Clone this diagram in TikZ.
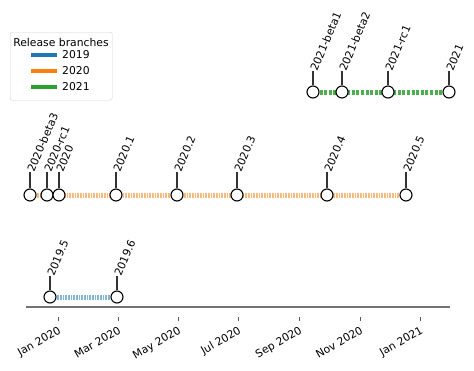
\documentclass[tikz,border=0pt]{standalone}
\usepackage{fontspec}
\setmainfont{DejaVu Sans}
\usetikzlibrary{positioning, backgrounds}
\definecolor{tabblue}{HTML}{1F77B4}
\definecolor{taborange}{HTML}{FF7F0E}
\definecolor{tabgreen}{HTML}{2CA02C}

\begin{document}
\begin{tikzpicture}[
    x=1pt, y=-1pt,
    every node/.style={font=\fontsize{10.8}{13}\selectfont},
    rel/.style={draw, circle, fill=white, inner sep=0pt, minimum size=12pt, line width=1.1pt},
    stem/.style={draw=black!80, line width=1.2pt},
    tag/.style={rotate=67, anchor=west, inner sep=1pt},
    branch/.style={line width=5pt, dash pattern=on 1pt off 0.6pt},
    greenbranch/.style={line width=5pt, dash pattern=on 3pt off 1.6pt},
    tickmark/.style={draw=black!65, line width=0.8pt},
    month/.style={rotate=30, anchor=north east, inner sep=1pt},
    swatch/.style={line width=4pt},
    legendbox/.style={draw=black!18, rounded corners=2pt, fill=white, anchor=north west, minimum width=102pt, minimum height=68pt}
]
\useasboundingbox (0,0) rectangle (474,370);

% Legend
\node[legendbox] (legend) at (10,32) {};
\node (legtitle) at (61,42) {Release branches};
\coordinate (sw19a) at (31,55); \coordinate (sw19b) at (57,55);
\coordinate (sw20a) at (31,71); \coordinate (sw20b) at (57,71);
\coordinate (sw21a) at (31,87); \coordinate (sw21b) at (57,87);
\draw[swatch, tabblue] (sw19a) -- (sw19b);
\draw[swatch, taborange] (sw20a) -- (sw20b);
\draw[swatch, tabgreen] (sw21a) -- (sw21b);
\node[right=4pt of sw19b, inner sep=1pt] (leg19) {2019};
\node[right=4pt of sw20b, inner sep=1pt] (leg20) {2020};
\node[right=4pt of sw21b, inner sep=1pt] (leg21) {2021};

% 2021 branch
\node[rel] (v21b1) at (313,92) {};
\node[rel] (v21b2) at (342,92) {};
\node[rel] (v21rc1) at (388,92) {};
\node[rel] (v21) at (449,92) {};
\coordinate[above=14pt of v21b1] (v21b1top);
\coordinate[above=14pt of v21b2] (v21b2top);
\coordinate[above=14pt of v21rc1] (v21rc1top);
\coordinate[above=14pt of v21] (v21top);
\node[tag] (t21b1) at (v21b1top) {2021-beta1};
\node[tag] (t21b2) at (v21b2top) {2021-beta2};
\node[tag] (t21rc1) at (v21rc1top) {2021-rc1};
\node[tag] (t21) at (v21top) {2021};

% 2020 branch
\node[rel] (v20b3) at (30,195) {};
\node[rel] (v20rc1) at (47,195) {};
\node[rel] (v20) at (59,195) {};
\node[rel] (v201) at (116,195) {};
\node[rel] (v202) at (177,195) {};
\node[rel] (v203) at (237,195) {};
\node[rel] (v204) at (327,195) {};
\node[rel] (v205) at (406,195) {};
\coordinate[above=16pt of v20b3] (v20b3top);
\coordinate[above=16pt of v20rc1] (v20rc1top);
\coordinate[above=16pt of v20] (v20top);
\coordinate[above=16pt of v201] (v201top);
\coordinate[above=16pt of v202] (v202top);
\coordinate[above=16pt of v203] (v203top);
\coordinate[above=16pt of v204] (v204top);
\coordinate[above=16pt of v205] (v205top);
\node[tag] (t20b3) at (v20b3top) {2020-beta3};
\node[tag] (t20rc1) at (v20rc1top) {2020-rc1};
\node[tag] (t20) at (v20top) {2020};
\node[tag] (t201) at (v201top) {2020.1};
\node[tag] (t202) at (v202top) {2020.2};
\node[tag] (t203) at (v203top) {2020.3};
\node[tag] (t204) at (v204top) {2020.4};
\node[tag] (t205) at (v205top) {2020.5};

% 2019 branch
\node[rel] (v195) at (50,297) {};
\node[rel] (v196) at (117,297) {};
\coordinate[above=14pt of v195] (v195top);
\coordinate[above=14pt of v196] (v196top);
\node[tag] (t195) at (v195top) {2019.5};
\node[tag] (t196) at (v196top) {2019.6};

% branch lines and stems
\begin{scope}[on background layer]
\draw[greenbranch, tabgreen!85] (v21b1) -- (v21);
\draw[branch, taborange!55] (v20b3) -- (v205);
\draw[branch, tabblue!55] (v195) -- (v196);
\draw[stem] (v21b1) -- (v21b1top) (v21b2) -- (v21b2top) (v21rc1) -- (v21rc1top) (v21) -- (v21top);
\draw[stem] (v20b3) -- (v20b3top) (v20rc1) -- (v20rc1top) (v20) -- (v20top) (v201) -- (v201top);
\draw[stem] (v202) -- (v202top) (v203) -- (v203top) (v204) -- (v204top) (v205) -- (v205top);
\draw[stem] (v195) -- (v195top) (v196) -- (v196top);
\end{scope}

% Time axis
\coordinate (axl) at (26,307);
\coordinate (axr) at (450,307);
\draw[draw=black!55, line width=1.3pt] (axl) -- (axr);
\coordinate (m1) at (58,317); \coordinate (m1e) at (58,321);
\coordinate (m2) at (118,317); \coordinate (m2e) at (118,321);
\coordinate (m3) at (178,317); \coordinate (m3e) at (178,321);
\coordinate (m4) at (238,317); \coordinate (m4e) at (238,321);
\coordinate (m5) at (299,317); \coordinate (m5e) at (299,321);
\coordinate (m6) at (360,317); \coordinate (m6e) at (360,321);
\coordinate (m7) at (420,317); \coordinate (m7e) at (420,321);
\draw[tickmark] (m1) -- (m1e) (m2) -- (m2e) (m3) -- (m3e) (m4) -- (m4e) (m5) -- (m5e) (m6) -- (m6e) (m7) -- (m7e);
\node[month, below=3pt of m1e, anchor=north east] (l1) {Jan 2020};
\node[month, below=3pt of m2e, anchor=north east] (l2) {Mar 2020};
\node[month, below=3pt of m3e, anchor=north east] (l3) {May 2020};
\node[month, below=3pt of m4e, anchor=north east] (l4) {Jul 2020};
\node[month, below=3pt of m5e, anchor=north east] (l5) {Sep 2020};
\node[month, below=3pt of m6e, anchor=north east] (l6) {Nov 2020};
\node[month, below=3pt of m7e, anchor=north east] (l7) {Jan 2021};

\end{tikzpicture}
\end{document}
